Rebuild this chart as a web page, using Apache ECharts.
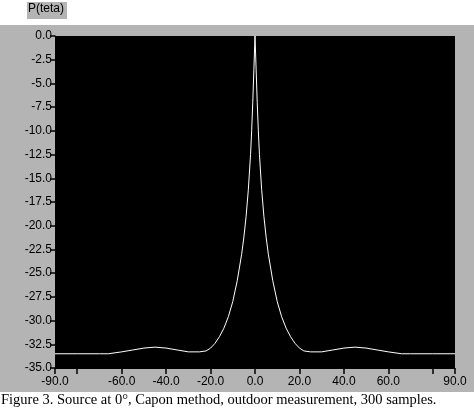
<!DOCTYPE html><html><head><meta charset="utf-8">
<script src="https://cdn.jsdelivr.net/npm/echarts@6/dist/echarts.min.js"></script>
<style>body{margin:0;background:#fff}#c{width:474px;height:409px}</style></head><body><div id="c"></div>
<script>
const angles=[-90,-80,-70,-66,-60,-55,-50,-45,-40,-35,-30,-25,-22,-20,-18,-16,-14,-12,-10,-8,-6,-5,-4,-3,-2,-1.5,-1,-0.5,0,0.5,1,1.5,2,3,4,5,6,8,10,12,14,16,18,20,22,25,30,35,40,45,50,55,60,66,70,80,90];
const power=[-33.5,-33.5,-33.5,-33.5,-33.3,-33.1,-32.9,-32.8,-32.9,-33.1,-33.3,-33.3,-33.2,-32.9,-32.4,-31.7,-30.8,-29.6,-28.0,-25.8,-23.0,-21.2,-19.0,-16.2,-12.5,-10,-7,-3.5,0,-3.5,-7,-10,-12.5,-16.2,-19.0,-21.2,-23.0,-25.8,-28.0,-29.6,-30.8,-31.7,-32.4,-32.9,-33.2,-33.3,-33.3,-33.1,-32.9,-32.8,-32.9,-33.1,-33.3,-33.5,-33.5,-33.5,-33.5];
const xTicks=[-90,-80,-60,-40,-20,0,20,40,60,80,90];
const xLabels=[-90,-60,-40,-20,0,20,40,60,90];
const ch=echarts.init(document.getElementById('c'));
const lab={color:'#000',fontFamily:'Arial',fontSize:12,formatter:v=>v.toFixed(1)};
ch.setOption({animation:false,
graphic:[{type:'rect',shape:{x:0,y:25,width:474,height:367},style:{fill:'#b4b4b4'},z:-10},
{type:'rect',shape:{x:27,y:2,width:40,height:17},style:{fill:'#b4b4b4'},z:-10},
{type:'text',left:28,top:3,style:{text:'P(teta)',fontFamily:'Arial',fontSize:12,fill:'#000'}},
{type:'text',left:1,top:393,style:{text:'Figure 3. Source at 0°, Capon method, outdoor measurement, 300 samples.',fontFamily:'Liberation Serif',fontSize:14.5,fill:'#000'}}],
grid:{left:55,right:19,top:36,bottom:41,show:true,backgroundColor:'#000',borderWidth:0},
xAxis:{type:'value',min:-90,max:90,interval:10,
axisLine:{show:true,onZero:false,lineStyle:{color:'#000'}},splitLine:{show:false},
axisTick:{show:true,length:6,inside:false,customValues:xTicks,lineStyle:{color:'#000',width:1.5}},
axisLabel:{...lab,customValues:xLabels,margin:8}},
yAxis:{type:'value',min:-35,max:0,interval:2.5,
axisLine:{show:true,onZero:false,lineStyle:{color:'#000'}},splitLine:{show:false},
axisTick:{show:true,length:5,lineStyle:{color:'#000',width:1.5}},
axisLabel:{...lab,margin:3}},
series:[{type:'line',data:angles.map((a,i)=>[a,power[i]]),showSymbol:false,lineStyle:{color:'#fff',width:1}}]});
</script></body></html>
